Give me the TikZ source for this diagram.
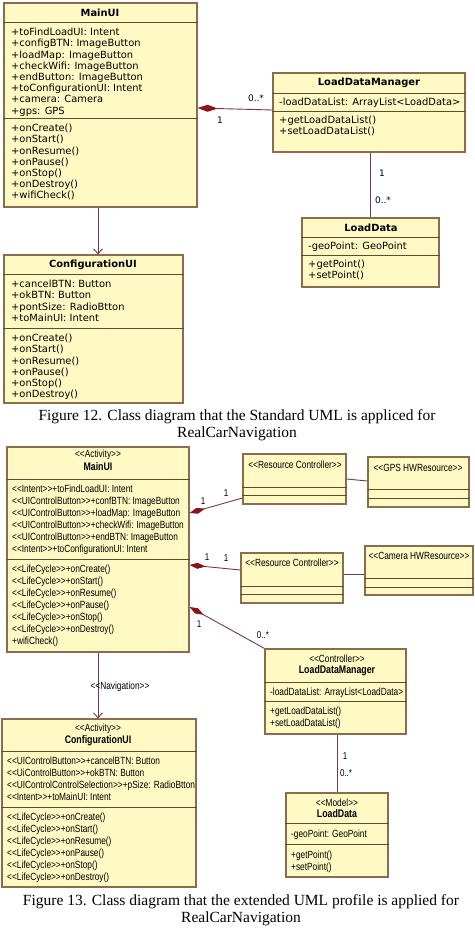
\documentclass[tikz,border=0pt]{standalone}
\usepackage{fontspec}
\setmainfont{Liberation Serif}
\newfontfamily\dfont{DejaVu Sans}
\newfontfamily\nfont[FakeStretch=0.8]{Liberation Sans}
\usetikzlibrary{arrows.meta,fit}
\definecolor{boxfill}{RGB}{255,249,196}
\definecolor{boxdraw}{RGB}{140,108,78}
\definecolor{sepcol}{RGB}{105,70,50}
\definecolor{linecol}{RGB}{115,60,70}
\definecolor{diacol}{RGB}{140,20,25}
\newcommand\stL{<\kern0pt<}
\newcommand\stR{>\kern0pt>}
\tikzset{
  umlbox/.style={draw=boxdraw, fill=boxfill, line width=1.1pt, inner sep=0pt},
  sepline/.style={draw=sepcol, line width=0.9pt},
  conn/.style={draw=linecol, line width=0.9pt},
  compA/.style={conn, {Diamond[length=20pt,width=7pt,fill=diacol,color=diacol]}-},
  compB/.style={conn, {Diamond[length=16pt,width=6pt,fill=diacol,color=diacol]}-},
  nav/.style={conn, -{Straight Barb[length=5pt,width=9pt]}},
  txtA/.style={font=\dfont\fontsize{9.9}{11.2}\selectfont, inner sep=0pt, align=left, anchor=north west},
  titleA/.style={font=\dfont\bfseries\fontsize{9.9}{11}\selectfont, inner sep=0pt},
  lblA/.style={font=\dfont\fontsize{9}{10}\selectfont, inner sep=0pt},
  txtB/.style={font=\nfont\fontsize{10.4}{12}\selectfont, inner sep=0pt, align=left, anchor=north west},
  stereoB/.style={font=\nfont\fontsize{10.4}{11}\selectfont, inner sep=0pt},
  titleB/.style={font=\nfont\bfseries\fontsize{11}{11}\selectfont, inner sep=0pt},
  lblB/.style={font=\nfont\fontsize{10}{10}\selectfont, inner sep=0pt},
  caption/.style={font=\fontsize{15.5}{17}\selectfont, align=center, inner sep=0pt}
}
\begin{document}
\begin{tikzpicture}[x=1pt,y=-1pt]
\fill[white] (0,0) rectangle (474,928);
\useasboundingbox (0,0) rectangle (474,928);

% ===== Figure 12 =====
\node[umlbox, fit={(4,3) (197,207)}] (mainA) {};
\draw[sepline] (mainA.west |- 0,22) -- (mainA.east |- 0,22);
\draw[sepline] (mainA.west |- 0,118) -- (mainA.east |- 0,118);
\node[titleA] (mainAT) at (100,13) {MainUI};
\node[txtA] (mainAatt) at (11,28) {+toFindLoadUI: Intent\\+configBTN: ImageButton\\+loadMap: ImageButton\\+checkWifi: ImageButton\\+endButton: ImageButton\\+toConfigurationUI: Intent\\+camera: Camera\\+gps: GPS};
\node[txtA] (mainAmet) at (11,124) {+onCreate()\\+onStart()\\+onResume()\\+onPause()\\+onStop()\\+onDestroy()\\+wifiCheck()};

\node[umlbox, fit={(273,73) (465,152)}] (ldmA) {};
\draw[sepline] (ldmA.west |- 0,93) -- (ldmA.east |- 0,93);
\draw[sepline] (ldmA.west |- 0,111) -- (ldmA.east |- 0,111);
\node[titleA] (ldmAT) at (369,83) {LoadDataManager};
\node[txtA] (ldmAatt) at (279,98) {-loadDataList: ArrayList<LoadData>};
\node[txtA] (ldmAmet) at (279,116) {+getLoadDataList()\\+setLoadDataList()};

\node[umlbox, fit={(302,218) (439,287)}] (ldA) {};
\draw[sepline] (ldA.west |- 0,237) -- (ldA.east |- 0,237);
\draw[sepline] (ldA.west |- 0,255) -- (ldA.east |- 0,255);
\node[titleA] (ldAT) at (371,228) {LoadData};
\node[txtA] (ldAatt) at (308,242) {-geoPoint: GeoPoint};
\node[txtA] (ldAmet) at (308,260) {+getPoint()\\+setPoint()};

\node[umlbox, fit={(4,255) (183,403)}] (cfgA) {};
\draw[sepline] (cfgA.west |- 0,274) -- (cfgA.east |- 0,274);
\draw[sepline] (cfgA.west |- 0,328) -- (cfgA.east |- 0,328);
\node[titleA] (cfgAT) at (93,265) {ConfigurationUI};
\node[txtA] (cfgAatt) at (11,280) {+cancelBTN: Button\\+okBTN: Button\\+pontSize: RadioBtton\\+toMainUI: Intent};
\node[txtA] (cfgAmet) at (11,334) {+onCreate()\\+onStart()\\+onResume()\\+onPause()\\+onStop()\\+onDestroy()};

\draw[compA] (mainA.east |- 0,108) -- (ldmA.west |- 0,110);
\node[lblA] (lA1) at (220,120) {1};
\node[lblA] (lA2) at (256,98) {0..*};
\draw[conn] (ldmA.south -| 370,0) -- (ldA.north -| 370,0);
\node[lblA] (lA3) at (382,173) {1};
\node[lblA] (lA4) at (383,200) {0..*};
\draw[nav] (mainA.south -| 98,0) -- (cfgA.north -| 98,0);

\node[caption] (cap12) at (237,425) {Figure 12. Class diagram that the Standard UML is appliced for\\RealCarNavigation};

% ===== Figure 13 =====
\node[umlbox, fit={(7,447) (189,652)}] (mainB) {};
\draw[sepline] (mainB.west |- 0,479) -- (mainB.east |- 0,479);
\draw[sepline] (mainB.west |- 0,559) -- (mainB.east |- 0,559);
\node[stereoB] (mainBS) at (98,455) {\stL Activity\stR};
\node[titleB] (mainBT) at (98,467) {MainUI};
\node[txtB] (mainBatt) at (12,485) {\stL Intent\stR+toFindLoadUI: Intent\\\stL UIControlButton\stR+confBTN: ImageButton\\\stL UIControlButton\stR+loadMap: ImageButton\\\stL UIControlButton\stR+checkWifi: ImageButton\\\stL UIControlButton\stR+endBTN: ImageButton\\\stL Intent\stR+toConfigurationUI: Intent};
\node[txtB] (mainBmet) at (12,565) {\stL LifeCycle\stR+onCreate()\\\stL LifeCycle\stR+onStart()\\\stL LifeCycle\stR+onResume()\\\stL LifeCycle\stR+onPause()\\\stL LifeCycle\stR+onStop()\\\stL LifeCycle\stR+onDestroy()\\+wifiCheck()};

\node[umlbox, fit={(243,454) (346,504)}] (rcB1) {};
\draw[sepline] (rcB1.west |- 0,487) -- (rcB1.east |- 0,487);
\draw[sepline] (rcB1.west |- 0,495) -- (rcB1.east |- 0,495);
\node[stereoB] (rcB1S) at (295,465) {\stL Resource Controller\stR};

\node[umlbox, fit={(368,457) (469,507)}] (gpsB) {};
\draw[sepline] (gpsB.west |- 0,489) -- (gpsB.east |- 0,489);
\draw[sepline] (gpsB.west |- 0,498) -- (gpsB.east |- 0,498);
\node[stereoB] (gpsBS) at (418,468) {\stL GPS HWResource\stR};

\node[umlbox, fit={(241,553) (343,603)}] (rcB2) {};
\draw[sepline] (rcB2.west |- 0,586) -- (rcB2.east |- 0,586);
\draw[sepline] (rcB2.west |- 0,594) -- (rcB2.east |- 0,594);
\node[stereoB] (rcB2S) at (292,563) {\stL Resource Controller\stR};

\node[umlbox, fit={(365,546) (473,595)}] (camB) {};
\draw[sepline] (camB.west |- 0,578) -- (camB.east |- 0,578);
\draw[sepline] (camB.west |- 0,587) -- (camB.east |- 0,587);
\node[stereoB] (camBS) at (419,556) {\stL Camera HWResource\stR};

\node[umlbox, fit={(265,649) (406,734)}] (ldmB) {};
\draw[sepline] (ldmB.west |- 0,682) -- (ldmB.east |- 0,682);
\draw[sepline] (ldmB.west |- 0,701) -- (ldmB.east |- 0,701);
\node[stereoB] (ldmBS) at (337,659) {\stL Controller\stR};
\node[titleB] (ldmBT) at (337,671) {LoadDataManager};
\node[txtB] (ldmBatt) at (270,688) {-loadDataList: ArrayList<LoadData>};
\node[txtB] (ldmBmet) at (270,707) {+getLoadDataList()\\+setLoadDataList()};

\node[umlbox, fit={(286,793) (388,877)}] (ldB) {};
\draw[sepline] (ldB.west |- 0,823) -- (ldB.east |- 0,823);
\draw[sepline] (ldB.west |- 0,844) -- (ldB.east |- 0,844);
\node[stereoB] (ldBS) at (337,803) {\stL Model\stR};
\node[titleB] (ldBT) at (337,814) {LoadData};
\node[txtB] (ldBatt) at (291,830) {-geoPoint: GeoPoint};
\node[txtB] (ldBmet) at (291,851) {+getPoint()\\+setPoint()};

\node[umlbox, fit={(2,719) (196,887)}] (cfgB) {};
\draw[sepline] (cfgB.west |- 0,751) -- (cfgB.east |- 0,751);
\draw[sepline] (cfgB.west |- 0,807) -- (cfgB.east |- 0,807);
\node[stereoB] (cfgBS) at (98,729) {\stL Activity\stR};
\node[titleB] (cfgBT) at (98,741) {ConfigurationUI};
\node[txtB] (cfgBatt) at (7,757) {\stL UIControlButton\stR+cancelBTN: Button\\\stL UiControlButton\stR+okBTN: Button\\\stL UIControlControlSelection\stR+pSize: RadioBtton\\\stL Intent\stR+toMainUI: Intent};
\node[txtB] (cfgBmet) at (7,813) {\stL LifeCycle\stR+onCreate()\\\stL LifeCycle\stR+onStart()\\\stL LifeCycle\stR+onResume()\\\stL LifeCycle\stR+onPause()\\\stL LifeCycle\stR+onStop()\\\stL LifeCycle\stR+onDestroy()};

\draw[compB] (mainB.east |- 0,513) -- (rcB1.west |- 0,498);
\draw[compB] (mainB.east |- 0,565) -- (rcB2.west |- 0,570);
\draw[compB] (mainB.east |- 0,607) -- (ldmB.north west);
\draw[conn] (rcB1.east |- 0,479) -- (gpsB.west |- 0,481);
\draw[conn] (rcB2.east |- 0,574) -- (camB.west |- 0,574);
\draw[conn] (ldmB.south -| 337,0) -- (ldB.north -| 337,0);
\draw[nav] (mainB.south -| 98,0) -- (cfgB.north -| 98,0);
\node[lblB] (lB1) at (203,501) {1};
\node[lblB] (lB2) at (226,493) {1};
\node[lblB] (lB3) at (207,557) {1};
\node[lblB] (lB4) at (226,558) {1};
\node[lblB] (lB5) at (199,624) {1};
\node[lblB] (lB6) at (263,635) {0..*};
\node[lblB] (lB7) at (345,756) {1};
\node[lblB] (lB8) at (346,773) {0..*};
\node[stereoB] (navB) at (120,687) {\stL Navigation\stR};

\node[caption] (cap13) at (241,910) {Figure 13. Class diagram that the extended UML profile is applied for\\RealCarNavigation};
\end{tikzpicture}
\end{document}
